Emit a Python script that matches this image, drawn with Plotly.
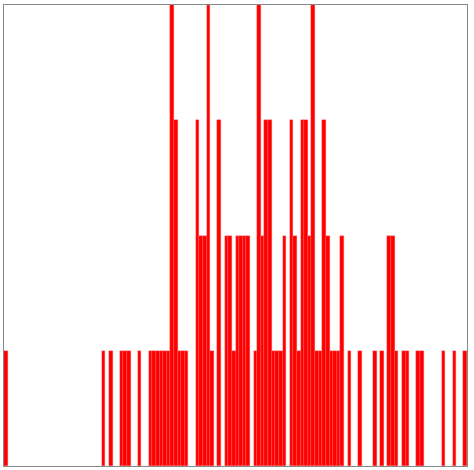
import plotly.graph_objects as go

# histogram bins (index of the bin) and how many values fell in each one
bins = [0, 27, 29, 32, 33, 34, 37, 40, 41, 42, 43, 44, 45, 46, 47, 48, 49, 50,
        53, 54, 55, 56, 57, 59, 61, 62, 63, 64, 65, 66, 67, 69, 70, 71, 72, 73,
        74, 75, 76, 77, 79, 80, 81, 82, 83, 84, 85, 86, 87, 88, 89, 90, 91, 92,
        93, 95, 98, 102, 104, 106, 107, 108, 110, 111, 114, 115, 121, 124, 127]
counts = [1, 1, 1, 1, 1, 1, 1, 1, 1, 1, 1, 1, 1, 4, 3, 1, 1, 1,
          3, 2, 2, 4, 1, 3, 2, 2, 1, 2, 2, 2, 2, 1, 4, 2, 3, 3,
          1, 1, 1, 2, 3, 2, 1, 3, 3, 2, 4, 1, 1, 3, 2, 1, 1, 1,
          2, 1, 1, 1, 1, 2, 2, 1, 1, 1, 1, 1, 1, 1, 1]
n_bins = 128
max_count = 4


def make_figure(x, y):
    fig = go.Figure()
    fig.add_trace(
        go.Bar(
            x=x,
            y=y,
            width=1,
            marker=dict(color='#ff0000', line=dict(width=0.4, color='rgba(255,110,110,0.8)')),
            hoverinfo='skip',
        )
    )
    fig.update_layout(
        width=474, height=470,
        margin=dict(l=4, r=7, t=5, b=4),
        paper_bgcolor='white',
        plot_bgcolor='white',
        bargap=0,
        showlegend=False,
    )
    axis_style = dict(
        showgrid=False, zeroline=False, showticklabels=False, ticks='',
        showline=True, mirror=True, linecolor='#888888', linewidth=1,
    )
    fig.update_xaxes(range=[-0.5, n_bins - 0.5], **axis_style)
    fig.update_yaxes(range=[0, max_count], **axis_style)
    return fig


if __name__ == '__main__':
    fig = make_figure(bins, counts)
    # page body has a default margin, drop it so the chart sits at the corner
    fig.write_html("out.html", config={'displayModeBar': False},
                   post_script="document.body.style.margin='0';")
